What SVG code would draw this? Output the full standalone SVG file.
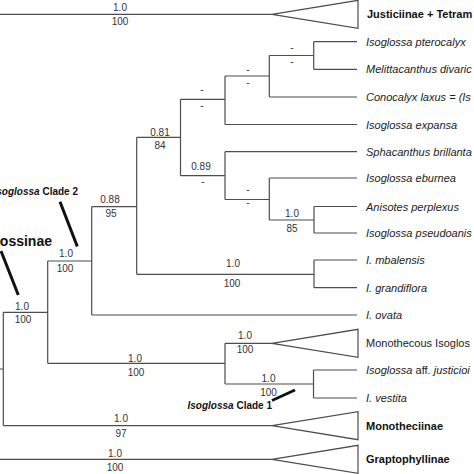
<svg xmlns="http://www.w3.org/2000/svg" width="474" height="474" viewBox="0 0 474 474">
<style>
.br{fill:none;stroke:#4d4d4d;stroke-width:1.2}
.tri{fill:#fff;stroke:#4d4d4d;stroke-width:1.2}
.s{font-family:"Liberation Sans",Arial,sans-serif;font-size:10px;fill:#333;text-anchor:middle}
.lf{font-family:"Liberation Sans",Arial,sans-serif;font-size:11px;font-style:italic;fill:#222}
.rg{font-family:"Liberation Sans",Arial,sans-serif;font-size:11px;fill:#222}
.bd{font-family:"Liberation Sans",Arial,sans-serif;font-size:11px;font-weight:bold;fill:#111}
.cl{font-family:"Liberation Sans",Arial,sans-serif;font-size:10px;font-weight:bold;fill:#111;text-anchor:end}
.big{font-family:"Liberation Sans",Arial,sans-serif;font-size:14px;font-weight:bold;fill:#111;text-anchor:end}
.ptr{stroke:#111;stroke-width:3}
</style>
<rect width="474" height="474" fill="#fff"/>
<g id="connectors">
<path class="br" d="M0,369H3.3M3.3,312.3V425.7M3.3,312.3H47.7M47.7,261V363.3M47.7,261H91.7M91.7,206.7V315M91.7,206.7H136.7M136.7,137.3V274.3M136.7,137.3H180.5M180.5,99.3V175.7M180.5,99.3H225M225,76V124.5M225,76H269.3M269.3,55.5V97M269.3,55.5H313.7M313.7,41.7V69.3"/>
<path class="br" d="M180.5,175.7H225M225,151.7V199.5M225,199.5H269.3M269.3,178V220M269.3,220H314M314,206.5V233M136.7,274.3H314M314,260V287.7"/>
<path class="br" d="M47.7,363.3H225M225,343.3V384M225,343.3H272M225,384H313.5M313.5,370V398M3.3,425.7H272M0,459.3H272M0,14.3H272"/>
<path class="br" d="M313.7,41.7H357M313.7,69.3H357M269.3,97H357M225,124.5H357M225,151.7H357M269.3,178H357M314,206.5H357M314,233H357M314,260H357M314,287.7H357M91.7,315H357M313.5,370H357M313.5,398H357"/>
<line class="ptr" x1="1" y1="251" x2="18.3" y2="295"/>
<line class="ptr" x1="60" y1="201.7" x2="77.3" y2="246.5"/>
<line class="ptr" x1="272" y1="400.5" x2="295" y2="390"/>
</g>
<g id="support">
<text class="s" x="120" y="11.3">1.0</text><text class="s" x="120" y="24.6">100</text>
<text class="s" x="292" y="50.7">-</text><text class="s" x="292" y="64.7">-</text>
<text class="s" x="248" y="72.7">-</text><text class="s" x="248" y="85.7">-</text>
<text class="s" x="202" y="92.7">-</text><text class="s" x="202" y="109.4">-</text>
<text class="s" x="160" y="135.9">0.81</text><text class="s" x="160" y="148.6">84</text>
<text class="s" x="201" y="169.6">0.89</text><text class="s" x="203" y="184.7">-</text>
<text class="s" x="248" y="192.7">-</text><text class="s" x="248" y="205.7">-</text>
<text class="s" x="292" y="216.6">1.0</text><text class="s" x="292" y="231.6">85</text>
<text class="s" x="110" y="202.6">0.88</text><text class="s" x="111" y="216.6">95</text>
<text class="s" x="233" y="267.3">1.0</text><text class="s" x="232" y="286.8">100</text>
<text class="s" x="66" y="257.2">1.0</text><text class="s" x="65" y="271.6">100</text>
<text class="s" x="22" y="309.6">1.0</text><text class="s" x="23" y="322.8">100</text>
<text class="s" x="135" y="361.9">1.0</text><text class="s" x="136" y="375.6">100</text>
<text class="s" x="245" y="338.8">1.0</text><text class="s" x="245" y="352.8">100</text>
<text class="s" x="268.5" y="382.3">1.0</text><text class="s" x="268.5" y="395.6">100</text>
<text class="s" x="121" y="421.9">1.0</text><text class="s" x="121" y="436.9">97</text>
<text class="s" x="115" y="457.1">1.0</text><text class="s" x="115" y="470.6">100</text>
</g>
<g id="justiciinae"><polygon class="tri" points="272,14.3 358,0.3 358,28.3"/><text class="bd" x="367" y="18.3">Justiciinae + Tetram</text></g>
<g id="pterocalyx"><text class="lf" x="366" y="45.7">Isoglossa pterocalyx</text></g>
<g id="melittacanthus"><text class="lf" x="366" y="73.3">Melittacanthus divaric</text></g>
<g id="conocalyx"><text class="lf" x="366" y="101">Conocalyx laxus = (Is</text></g>
<g id="expansa"><text class="lf" x="366" y="128.5">Isoglossa expansa</text></g>
<g id="sphacanthus"><text class="lf" x="366" y="155.7">Sphacanthus brillanta</text></g>
<g id="eburnea"><text class="lf" x="366" y="182">Isoglossa eburnea</text></g>
<g id="anisotes"><text class="lf" x="366" y="210.5">Anisotes perplexus</text></g>
<g id="pseudoanisotes"><text class="lf" x="366" y="237">Isoglossa pseudoanis</text></g>
<g id="mbalensis"><text class="lf" x="366" y="264">I. mbalensis</text></g>
<g id="grandiflora"><text class="lf" x="366" y="291.7">I. grandiflora</text></g>
<g id="ovata"><text class="lf" x="366" y="319">I. ovata</text></g>
<g id="monothecous"><polygon class="tri" points="272,343.3 358,329.3 358,357.3"/><text class="rg" x="366" y="347.3">Monothecous Isoglos</text></g>
<g id="justicioides"><text class="lf" x="366" y="374">Isoglossa<tspan font-style="normal"> aff. </tspan>justicioi</text></g>
<g id="vestita"><text class="lf" x="366" y="402">I. vestita</text></g>
<g id="monotheciinae"><polygon class="tri" points="272,425.7 358,411.7 358,439.7"/><text class="bd" x="366" y="429.7">Monotheciinae</text></g>
<g id="graptophyllinae"><polygon class="tri" points="272,459.3 358,445.3 358,473.3"/><text class="bd" x="366" y="463.3">Graptophyllinae</text></g>
<g id="clade-labels">
<text class="big" x="52" y="246">Isoglossinae</text>
<text class="cl" x="78" y="195.3"><tspan font-style="italic">Isoglossa</tspan> Clade 2</text>
<text class="cl" x="272" y="408.6"><tspan font-style="italic">Isoglossa</tspan> Clade 1</text>
</g>
</svg>
